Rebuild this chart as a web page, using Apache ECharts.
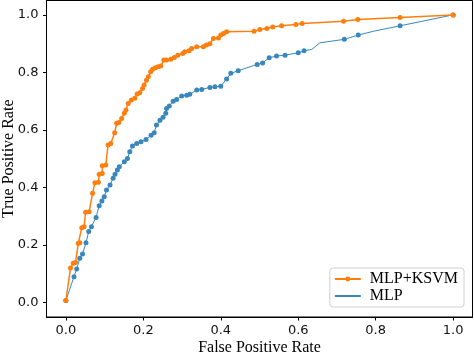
<!DOCTYPE html>
<html>
<head>
<meta charset="utf-8">
<script src="https://cdn.jsdelivr.net/npm/echarts@6/dist/echarts.min.js"></script>
<style>
  html, body { margin: 0; padding: 0; background: #fff; }
  #main { width: 474px; height: 353px; }
</style>
</head>
<body>
<div id="main"></div>
<script>
// ROC curve points
const ksvmFpr = [0, 0.012, 0.019, 0.025, 0.032, 0.036, 0.041, 0.047, 0.051, 0.06, 0.069, 0.075, 0.084, 0.086, 0.094, 0.094,
  0.103, 0.109, 0.116, 0.126, 0.131, 0.137, 0.144, 0.151, 0.155, 0.161, 0.169, 0.178, 0.184, 0.191, 0.198, 0.202, 0.208,
  0.213, 0.219, 0.224, 0.231, 0.238, 0.245, 0.253, 0.26, 0.271, 0.28, 0.289, 0.302, 0.307, 0.318, 0.325, 0.338, 0.355,
  0.363, 0.372, 0.381, 0.394, 0.4, 0.407, 0.415, 0.486, 0.501, 0.519, 0.534, 0.557, 0.594, 0.61, 0.717, 0.754, 0.863, 1.0]
const ksvmTpr = [0.007, 0.12, 0.137, 0.139, 0.206, 0.208, 0.26, 0.264, 0.314, 0.316, 0.38, 0.417, 0.418, 0.446, 0.449, 0.476,
  0.478, 0.548, 0.553, 0.59, 0.623, 0.626, 0.64, 0.658, 0.669, 0.692, 0.704, 0.71, 0.725, 0.729, 0.744, 0.756, 0.773,
  0.785, 0.802, 0.811, 0.816, 0.82, 0.822, 0.843, 0.843, 0.846, 0.852, 0.86, 0.866, 0.872, 0.875, 0.883, 0.889, 0.889,
  0.895, 0.9, 0.918, 0.92, 0.93, 0.935, 0.941, 0.943, 0.949, 0.953, 0.958, 0.962, 0.967, 0.97, 0.978, 0.984, 0.991, 1.0]

const mlpFpr = [0, 0.021, 0.028, 0.036, 0.043, 0.052, 0.059, 0.066, 0.078, 0.086, 0.093, 0.099, 0.105, 0.114, 0.122, 0.127,
  0.133, 0.138, 0.151, 0.159, 0.165, 0.172, 0.183, 0.194, 0.207, 0.22, 0.228, 0.234, 0.243, 0.251, 0.258, 0.26, 0.267,
  0.277, 0.286, 0.299, 0.312, 0.32, 0.338, 0.351, 0.372, 0.385, 0.4, 0.415, 0.426, 0.445, 0.494, 0.508, 0.525, 0.544,
  0.566, 0.6, 0.615, 0.635, 0.656, 0.719, 0.755, 0.794, 0.863, 1.0]
const mlpTpr = [0.007, 0.09, 0.117, 0.154, 0.169, 0.208, 0.247, 0.264, 0.296, 0.337, 0.353, 0.368, 0.391, 0.409, 0.432, 0.446,
  0.461, 0.472, 0.49, 0.501, 0.524, 0.544, 0.553, 0.559, 0.567, 0.582, 0.59, 0.617, 0.634, 0.644, 0.658, 0.675, 0.683,
  0.7, 0.706, 0.718, 0.721, 0.724, 0.739, 0.741, 0.748, 0.75, 0.752, 0.777, 0.797, 0.806, 0.828, 0.833, 0.851, 0.857,
  0.86, 0.868, 0.875, 0.88, 0.903, 0.915, 0.93, 0.943, 0.962, 1.0]
// points on the MLP line drawn without a marker
const mlpPlain = [0.635, 0.656, 0.794]

const ticks = [0, 0.2, 0.4, 0.6, 0.8, 1.0]

const serif = '"Liberation Serif", "DejaVu Serif", serif'
const sans = '"DejaVu Sans", sans-serif'

const ksvmData = ksvmFpr.map((x, i) => [x, ksvmTpr[i]])
const mlpData = mlpFpr.map((x, i) => {
  if (mlpPlain.includes(x)) return { value: [x, mlpTpr[i]], symbol: 'none' }
  return [x, mlpTpr[i]]
})

const axisCommon = {
  type: 'value',
  min: -0.05,
  max: 1.05,
  nameLocation: 'middle',
  nameMoveOverlap: false,
  nameTextStyle: { fontFamily: serif, fontSize: 16, color: '#000' },
  axisLine: { show: true, onZero: false, lineStyle: { color: '#000', width: 1 } },
  axisTick: { show: true, length: 3.5, lineStyle: { color: '#000' }, customValues: ticks },
  axisLabel: {
    fontFamily: sans, fontSize: 13, color: '#111',
    customValues: ticks,
    formatter: v => v.toFixed(1)
  },
  splitLine: { show: false }
}

const chart = echarts.init(document.getElementById('main'))
chart.setOption({
  animation: false,
  backgroundColor: '#fff',
  grid: {
    left: 46.5, right: 1.5, top: 0.5, bottom: 36,
    containLabel: false,
    outerBoundsMode: 'none',
    show: true, borderColor: '#000', borderWidth: 1
  },
  xAxis: Object.assign({}, axisCommon, {
    name: 'False Positive Rate',
    nameGap: 23,
    axisLabel: Object.assign({}, axisCommon.axisLabel, { margin: 7 })
  }),
  yAxis: Object.assign({}, axisCommon, {
    name: 'True Positive Rate',
    nameGap: 30,
    nameRotate: 90,
    axisLabel: Object.assign({}, axisCommon.axisLabel, { margin: 8 })
  }),
  legend: {
    orient: 'vertical',
    right: 10,
    bottom: 46,
    itemWidth: 26,
    itemHeight: 6,
    itemGap: 1,
    padding: [3, 6, 3, 4],
    backgroundColor: '#fff',
    borderColor: '#d0d0d0',
    borderWidth: 1,
    borderRadius: 3,
    textStyle: { fontFamily: serif, fontSize: 16, color: '#000', lineHeight: 16, padding: [0, 0, 0, 4] },
    data: [
      { name: 'MLP+KSVM' },
      { name: 'MLP', itemStyle: { opacity: 0 } }
    ]
  },
  series: [
    {
      name: 'MLP+KSVM',
      type: 'line',
      data: ksvmData,
      color: '#ff7f0e',
      symbol: 'circle',
      symbolSize: 5,
      lineStyle: { width: 1.5, color: '#ff7f0e' },
      itemStyle: { color: '#ff7f0e' },
      z: 3
    },
    {
      name: 'MLP',
      type: 'line',
      data: mlpData,
      color: '#1f77b4',
      symbol: 'circle',
      symbolSize: 5,
      lineStyle: { width: 1, color: '#3a87bd' },
      itemStyle: { color: '#3a87bd' },
      z: 2
    }
  ]
})
</script>
</body>
</html>
